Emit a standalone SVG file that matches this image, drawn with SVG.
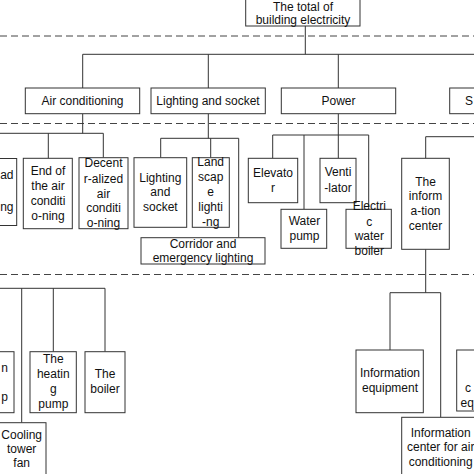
<svg xmlns="http://www.w3.org/2000/svg" width="474" height="474" viewBox="0 0 474 474">
<style>
.box{fill:#fff;stroke:#333;stroke-width:1}
.ln{stroke:#333;stroke-width:1;fill:none}
.dash{stroke:#444;stroke-width:1;stroke-dasharray:7 4;fill:none}
text{font-family:"Liberation Sans",Arial,sans-serif;font-size:12px;fill:#111;text-anchor:middle}
.e{text-anchor:end}
.s{text-anchor:start}
</style>
<rect x="0" y="0" width="474" height="474" fill="#fff"/>
<g id="dividers">
<path class="dash" d="M0 36H474M0 123.5H474M0 274.5H474"/>
</g>
<g id="connectors">
<path class="ln" d="M305.3 26V54.3M82.7 54.3H474M82.7 54.3V88M208.3 54.3V88M338.3 54.3V88"/>
<path class="ln" d="M82.7 113.7V133.3M0 133.3H103.3M48.3 133.3V158.3M103.3 133.3V157.7"/>
<path class="ln" d="M208.3 113.7V138.3M160.7 138.3H238.7M160.7 138.3V157.7M210.7 138.3V157.7M238.7 138.3V237.7"/>
<path class="ln" d="M338.3 113.7V135M272.7 135H368.7M272.7 135V158.3M304 135V209.3M338.3 135V158.3M368.7 135V209.3"/>
<path class="ln" d="M425.7 136.7H474M425.7 136.7V158.3"/>
<path class="ln" d="M425.7 249.3V292.7M390 292.7H440.7M390 292.7V350M440.7 292.7V417.3"/>
<path class="ln" d="M0 288.3H105M21.7 288.3V422.7M53.3 288.3V351.7M105 288.3V351.7"/>
</g>
<g id="n-total"><rect class="box" x="245.7" y="-5" width="114.3" height="31"/><text x="303" y="10.5">The total of</text><text x="303" y="24">building  electricity</text></g>
<g id="n-air"><rect class="box" x="25.3" y="88" width="114.4" height="25.7"/><text x="82.5" y="104.5">Air conditioning</text></g>
<g id="n-lighting"><rect class="box" x="151" y="88" width="114.3" height="25.7"/><text x="208" y="104.5">Lighting and socket</text></g>
<g id="n-power"><rect class="box" x="281.3" y="88" width="114.4" height="25.7"/><text x="338.5" y="104.5">Power</text></g>
<g id="n-special"><rect class="box" x="449.7" y="88" width="60" height="25.7"/><text class="s" x="465" y="104.5">S</text></g>
<g id="n-left2"><rect class="box" x="-10" y="158.5" width="26.7" height="67"/><text class="e" x="13.5" y="179">ad</text><text class="e" x="13.5" y="211">ng</text></g>
<g id="n-end"><rect class="box" x="23.3" y="158.3" width="49" height="70.4"/><text x="48" y="175">End of</text><text x="48" y="190">the air</text><text x="48" y="205">conditi</text><text x="48" y="220">o-ning</text></g>
<g id="n-decent"><rect class="box" x="79" y="157.7" width="49" height="71"/><text x="103.5" y="167.3">Decent</text><text x="103.5" y="183">r-alized</text><text x="103.5" y="198">air</text><text x="103.5" y="212.3">conditi</text><text x="103.5" y="227.3">o-ning</text></g>
<g id="n-ls"><rect class="box" x="134" y="157.7" width="52.7" height="69.6"/><text x="160.3" y="182">Lighting</text><text x="160.3" y="196.3">and</text><text x="160.3" y="211.3">socket</text></g>
<g id="n-landscape"><rect class="box" x="192.3" y="157.7" width="37" height="69.6"/><text x="210.7" y="166.3">Land</text><text x="210.7" y="181.3">scap</text><text x="210.7" y="196.3">e</text><text x="210.7" y="211.3">lighti</text><text x="210.7" y="226">-ng</text></g>
<g id="n-corridor"><rect class="box" x="141" y="237.7" width="124" height="26.3"/><text x="203" y="247.5">Corridor and</text><text x="203" y="262">emergency lighting</text></g>
<g id="n-elevator"><rect class="box" x="248.3" y="158.3" width="49.4" height="44.4"/><text x="273" y="177.3">Elevato</text><text x="273" y="191.7">r</text></g>
<g id="n-waterpump"><rect class="box" x="281" y="209.3" width="45.7" height="39"/><text x="304.5" y="224.7">Water</text><text x="304.5" y="240.3">pump</text></g>
<g id="n-ventilator"><rect class="box" x="320" y="158.3" width="36" height="44.4"/><text x="338" y="176.3">Venti</text><text x="338" y="191.7">-lator</text></g>
<g id="n-boilerE"><rect class="box" x="346" y="209.3" width="45.3" height="39"/><text x="369.3" y="210">Electri</text><text x="369.3" y="225.7">c</text><text x="369.3" y="240.3">water</text><text x="369.3" y="255">boiler</text></g>
<g id="n-infocenter"><rect class="box" x="401.7" y="158.3" width="47.6" height="91"/><text x="425.5" y="185.7">The</text><text x="425.5" y="200">inform</text><text x="425.5" y="215">a-tion</text><text x="425.5" y="230">center</text></g>
<g id="n-left3"><rect class="box" x="-10" y="351.7" width="24" height="61"/><text class="e" x="8" y="371.7">n</text><text class="e" x="8" y="400.7">p</text></g>
<g id="n-heatpump"><rect class="box" x="30" y="351.7" width="46.3" height="61"/><text x="53.3" y="363.3">The</text><text x="53.3" y="378.3">heatin</text><text x="53.3" y="393">g</text><text x="53.3" y="408.3">pump</text></g>
<g id="n-boiler"><rect class="box" x="85" y="351.7" width="40" height="61"/><text x="105" y="378">The</text><text x="105" y="393">boiler</text></g>
<g id="n-cooling"><rect class="box" x="-2.6" y="422.7" width="48.6" height="60"/><text x="21.7" y="439">Cooling</text><text x="21.7" y="453.3">tower</text><text x="21.7" y="467.3">fan</text></g>
<g id="n-infoequip"><rect class="box" x="356" y="350" width="67.3" height="62.7"/><text x="390" y="377.3">Information</text><text x="390" y="392.3">equipment</text></g>
<g id="n-infoair"><rect class="box" x="401.7" y="417.3" width="78" height="65"/><text x="440.7" y="437.3">Information</text><text x="440.7" y="451.3">center for air</text><text x="440.7" y="466.3">conditioning</text></g>
<g id="n-right3"><rect class="box" x="456.7" y="350" width="30" height="61"/><text class="s" x="465" y="392">c</text><text class="s" x="460.5" y="406.7">eq</text></g>
</svg>
